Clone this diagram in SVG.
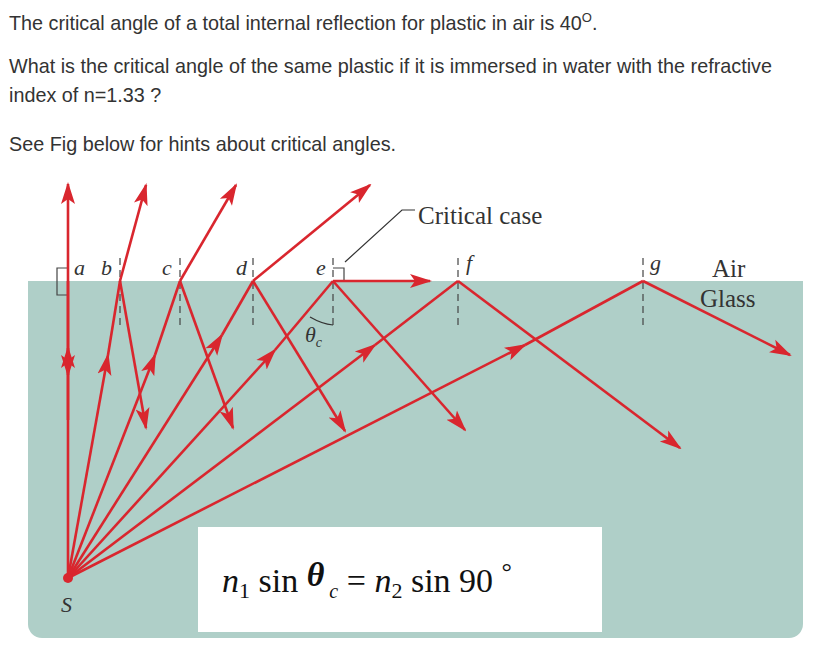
<svg xmlns="http://www.w3.org/2000/svg" width="827" height="672" viewBox="0 0 827 672">
<defs>
<marker id="ah" viewBox="-20 -8 22 16" refX="0" refY="0" markerWidth="22" markerHeight="16" orient="auto" markerUnits="userSpaceOnUse"><path d="M-20,-7 L2,0 L-20,7 L-15,0 Z" fill="#d9262e"/></marker>
</defs>
<style>
.q{font-family:"Liberation Sans",Arial,sans-serif;font-size:19.8px;fill:#333}
.r{stroke:#d9262e;stroke-width:2.6;fill:none}
.n{stroke:#444;stroke-width:1.2;stroke-dasharray:7,5;fill:none}
.l{font-family:"Liberation Serif","Times New Roman",serif;font-size:22px;fill:#333;font-style:italic}
.t{font-family:"Liberation Serif","Times New Roman",serif;font-size:25px;fill:#333}
</style>
<rect width="827" height="672" fill="#fff"/>
<text class="q" x="9" y="30">The critical angle of a total internal reflection for plastic in air is 40<tspan font-size="13" dy="-8">O</tspan><tspan dy="8">.</tspan></text>
<text class="q" x="9" y="73">What is the critical angle of the same plastic if it is immersed in water with the refractive</text>
<text class="q" x="9" y="102">index of n=1.33 ?</text>
<text class="q" x="9" y="151">See Fig below for hints about critical angles.</text>
<path d="M28,281 H803 V624 a14,14 0 0 1 -14,14 H42 a14,14 0 0 1 -14,-14 Z" fill="#afcfc8"/>
<g id="normals">
<path class="n" d="M120,258V330M180,258V330M253,258V330M333,258V330M458,258V330M643,258V330"/>
<path d="M68,268H57V295H68" stroke="#444" stroke-width="1.2" fill="none"/>
<path d="M333,268H344V281" stroke="#444" stroke-width="1.2" fill="none"/>
<path d="M345,262L402,210H415" stroke="#333" stroke-width="1.2" fill="none"/>
<path d="M310,317Q322,324 333,325" stroke="#333" stroke-width="1.2" fill="none"/>
</g>
<g id="connectors">
<line class="r" x1="68" y1="578" x2="68" y2="184" marker-end="url(#ah)"/>
<line class="r" x1="68" y1="420" x2="68" y2="348" marker-end="url(#ah)"/>
<line class="r" x1="68" y1="281" x2="68" y2="375" marker-end="url(#ah)"/>
<line class="r" x1="68" y1="578" x2="108" y2="355" marker-end="url(#ah)"/><line class="r" x1="108" y1="355" x2="120" y2="281"/>
<line class="r" x1="120" y1="281" x2="146" y2="185" marker-end="url(#ah)"/>
<line class="r" x1="120" y1="281" x2="146" y2="428" marker-end="url(#ah)"/>
<line class="r" x1="68" y1="578" x2="155" y2="355" marker-end="url(#ah)"/><line class="r" x1="155" y1="355" x2="180" y2="281"/>
<line class="r" x1="180" y1="281" x2="236" y2="185" marker-end="url(#ah)"/>
<line class="r" x1="180" y1="281" x2="233" y2="428" marker-end="url(#ah)"/>
<line class="r" x1="68" y1="578" x2="222" y2="335" marker-end="url(#ah)"/><line class="r" x1="222" y1="335" x2="253" y2="281"/>
<line class="r" x1="253" y1="281" x2="370" y2="185" marker-end="url(#ah)"/>
<line class="r" x1="253" y1="281" x2="345" y2="431" marker-end="url(#ah)"/>
<line class="r" x1="68" y1="578" x2="275" y2="350" marker-end="url(#ah)"/><line class="r" x1="275" y1="350" x2="333" y2="281"/>
<line class="r" x1="333" y1="281" x2="430" y2="281" marker-end="url(#ah)"/>
<line class="r" x1="333" y1="281" x2="465" y2="430" marker-end="url(#ah)"/>
<line class="r" x1="68" y1="578" x2="375" y2="345" marker-end="url(#ah)"/><line class="r" x1="375" y1="345" x2="458" y2="281"/>
<line class="r" x1="458" y1="281" x2="680" y2="448" marker-end="url(#ah)"/>
<line class="r" x1="68" y1="578" x2="525" y2="345" marker-end="url(#ah)"/><line class="r" x1="525" y1="345" x2="643" y2="281"/>
<line class="r" x1="643" y1="281" x2="790" y2="355" marker-end="url(#ah)"/>
<circle cx="68" cy="578" r="5" fill="#d9262e"/>
</g>
<g id="labels">
<text class="l" x="74" y="275">a</text>
<text class="l" x="101" y="275">b</text>
<text class="l" x="162" y="275">c</text>
<text class="l" x="236" y="275">d</text>
<text class="l" x="316" y="275">e</text>
<text class="l" x="466" y="270">f</text>
<text class="l" x="650" y="270">g</text>
<text class="l" x="305" y="342">θ<tspan font-size="14" dy="5">c</tspan></text>
<text class="l" x="61" y="612">S</text>
<text class="t" x="418" y="224">Critical case</text>
<text class="t" x="712" y="277">Air</text>
<text class="t" x="700" y="307">Glass</text>
</g>
<g id="formula">
<rect x="198" y="527" width="404" height="105" fill="#fff"/>
<text x="222" y="592" font-family="'Liberation Serif',serif" font-size="34" fill="#111"><tspan font-style="italic">n</tspan><tspan font-size="22" dy="6">1</tspan><tspan dy="-6"> sin </tspan><tspan font-style="italic" font-weight="bold" dy="-6">θ</tspan><tspan font-style="italic" font-size="20" dy="12"> c</tspan><tspan dy="-6"> = </tspan><tspan font-style="italic">n</tspan><tspan font-size="22" dy="6">2</tspan><tspan dy="-6"> sin 90 </tspan><tspan font-size="26" dy="-12">°</tspan></text>
</g>
</svg>
